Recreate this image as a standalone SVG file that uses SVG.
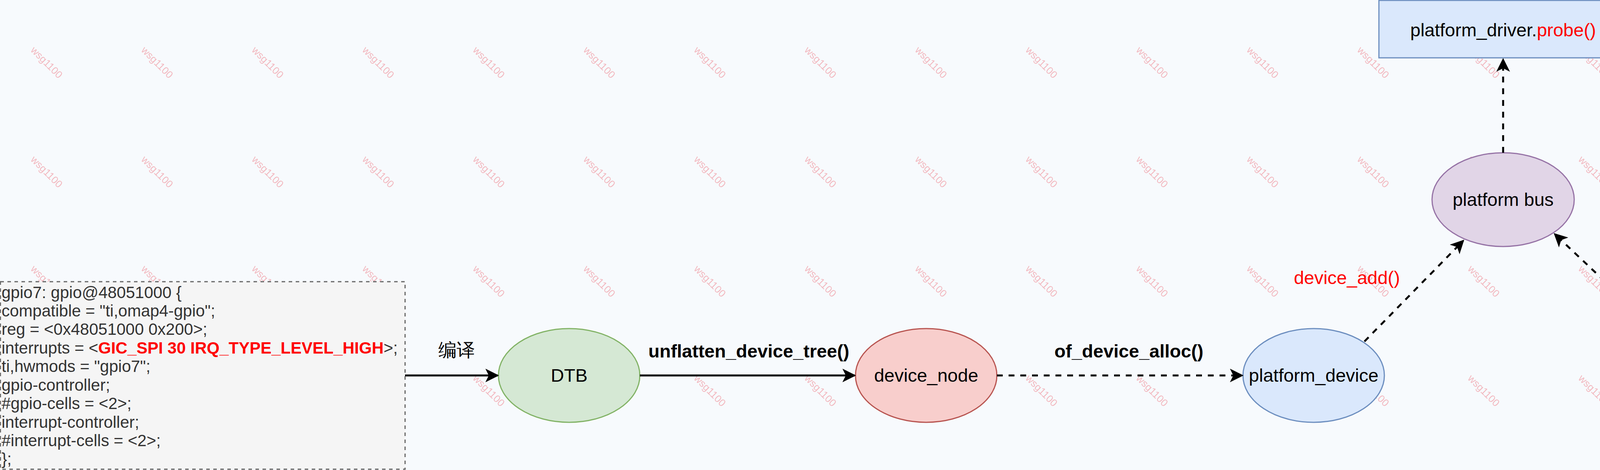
<svg xmlns="http://www.w3.org/2000/svg" width="4653" height="1203" viewBox="0 0 4653 1203">
<style>
text{font-family:"Liberation Sans",Arial,sans-serif;}
.lbl{font-size:47px;fill:#000;text-anchor:middle;}
.red{fill:#ff0000;}
.code{font-size:42px;fill:#333;}
.edge{stroke:#000;stroke-width:5;fill:none;}
.dash{stroke-dasharray:15 15;}
.wm{font-size:26px;fill:#f2b8bf;}
</style>
<defs>
<marker id="ah" viewBox="0 0 20 20" refX="18" refY="10" markerWidth="7" markerHeight="7" markerUnits="strokeWidth" orient="auto">
<path d="M0,0 L20,10 L0,20 L5,10 Z" fill="#000"/>
</marker>
<pattern id="wmp" x="3190" y="110" width="283" height="280" patternUnits="userSpaceOnUse">
<text class="wm" x="0" y="20" transform="rotate(45 0 20)">wsg1100</text>
</pattern>
</defs>
<rect width="4653" height="1203" fill="#f7fafd"/>
<rect width="4653" height="1203" fill="url(#wmp)"/>
<g id="code">
<rect x="1" y="721" width="1036" height="480" fill="#f5f5f5" stroke="#666" stroke-width="3" stroke-dasharray="9 9"/>
<text class="code" x="4" y="763">gpio7: gpio@48051000 {</text>
<text class="code" x="4" y="810">compatible = "ti,omap4-gpio";</text>
<text class="code" x="4" y="857">reg = &lt;0x48051000 0x200&gt;;</text>
<text class="code" x="4" y="905">interrupts = &lt;<tspan fill="#ff0000" font-weight="bold">GIC_SPI 30 IRQ_TYPE_LEVEL_HIGH</tspan>&gt;;</text>
<text class="code" x="4" y="952">ti,hwmods = "gpio7";</text>
<text class="code" x="4" y="1000">gpio-controller;</text>
<text class="code" x="4" y="1047">#gpio-cells = &lt;2&gt;;</text>
<text class="code" x="4" y="1095">interrupt-controller;</text>
<text class="code" x="4" y="1142">#interrupt-cells = &lt;2&gt;;</text>
<text class="code" x="4" y="1189">};</text>
</g>
<g id="dtb"><ellipse cx="1457" cy="961" rx="181" ry="120" fill="#d5e8d4" stroke="#82b366" stroke-width="3"/><text class="lbl" x="1457" y="977">DTB</text></g>
<g id="device_node"><ellipse cx="2371" cy="961" rx="181" ry="120" fill="#f8cecc" stroke="#b85450" stroke-width="3"/><text class="lbl" x="2371" y="977">device_node</text></g>
<g id="platform_device"><ellipse cx="3363" cy="961" rx="181" ry="120" fill="#dae8fc" stroke="#6c8ebf" stroke-width="3"/><text class="lbl" x="3363" y="977">platform_device</text></g>
<g id="platform_driver"><ellipse cx="4363" cy="961" rx="181" ry="120" fill="#d5e8d4" stroke="#82b366" stroke-width="3"/><text class="lbl" x="4363" y="977">platform_driver</text></g>
<g id="platform_bus"><ellipse cx="3848" cy="511" rx="182" ry="120" fill="#e1d5e7" stroke="#9673a6" stroke-width="3"/><text class="lbl" x="3848" y="527">platform bus</text></g>
<g id="probe"><rect x="3530" y="1" width="636" height="147" fill="#dae8fc" stroke="#6c8ebf" stroke-width="3"/><text class="lbl" x="3848" y="93">platform_driver.<tspan class="red">probe()</tspan></text></g>
<g id="connectors">
<line class="edge" x1="1037" y1="961" x2="1274" y2="961" marker-end="url(#ah)"/>
<line class="edge" x1="1638" y1="961" x2="2188" y2="961" marker-end="url(#ah)"/>
<line class="edge dash" x1="2552" y1="961" x2="3180" y2="961" marker-end="url(#ah)"/>
<line class="edge dash" x1="3493" y1="874" x2="3746" y2="616" marker-end="url(#ah)"/>
<line class="edge dash" x1="4260" y1="863" x2="3980" y2="599" marker-end="url(#ah)"/>
<line class="edge dash" x1="3848" y1="391" x2="3848" y2="152" marker-end="url(#ah)"/>
<text class="lbl" x="1169" y="912">编译</text>
<text class="lbl" x="1917" y="915" font-weight="bold">unflatten_device_tree()</text>
<text class="lbl" x="2890" y="915" font-weight="bold">of_device_alloc()</text>
<text class="lbl red" x="3448" y="727">device_add()</text>
<text class="lbl red" x="4370" y="696">platform_driver_register()</text>
</g>
<text x="4648" y="1195" font-size="22" fill="#999" text-anchor="end" style="font-family:'Liberation Sans','Noto Sans CJK SC',sans-serif">CSDN @来自深渊的凝视</text>
</svg>
